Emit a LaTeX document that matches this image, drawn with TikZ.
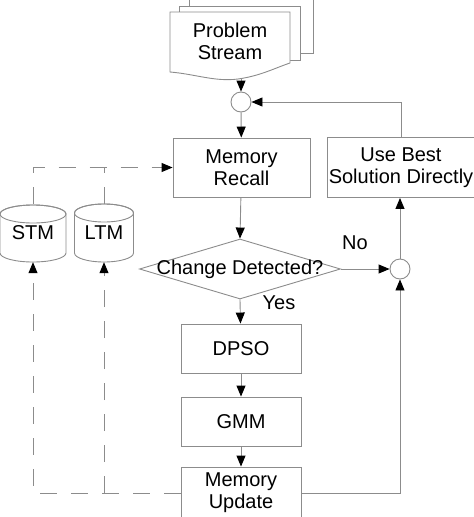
\documentclass[tikz,border=0pt]{standalone}
\usepackage{fontspec}
\setmainfont{Liberation Sans}
\usetikzlibrary{arrows.meta,shapes.geometric}
\definecolor{ln}{HTML}{8C8C8C}
\begin{document}
\begin{tikzpicture}[x=1pt,y=-1pt,
  every node/.style={font=\fontsize{20}{22}\selectfont, text=black},
  con/.style={draw=ln, line width=0.9pt},
  box/.style={con, fill=white, align=center, inner sep=0pt},
  arr/.style={con, -{Triangle[length=11pt,width=9pt,color=black]}},
  dsh/.style={con, dash pattern=on 17pt off 14pt, -{Triangle[length=11pt,width=9pt,color=black]}},
  dshplain/.style={con, dash pattern=on 17pt off 14pt},
  junc/.style={circle, con, fill=white, minimum size=20pt, inner sep=0pt},
  lbl/.style={inner sep=0pt}
  ]
\useasboundingbox (0,0) rectangle (474,517);

% problem stream (multi-document)
\draw[con, fill=white] (189,-5) rectangle (313,53);
\draw[con, fill=white] (179,6) rectangle (300,60);
\draw[con, fill=white] (170,12) -- (290,12) -- (290,63)
  .. controls (275,68) and (260,76) .. (238,79)
  .. controls (215,82) and (195,74) .. (170,72) -- cycle;
\node[align=center, inner sep=0pt] (ps) at (230,41) {Problem\\Stream};
\coordinate (psb) at (241,79);

% junctions
\node[junc] (c1) at (241,102) {};
\node[junc] (c2) at (400,269) {};

% boxes
\node[box, minimum width=137pt, minimum height=59pt] (mr) at (241.5,167.5) {Memory\\Recall};
\node[box, minimum width=148pt, minimum height=60pt] (ub) at (401,167.5) {Use Best\\Solution Directly};
\node[diamond, con, fill=white, minimum width=201pt, minimum height=60pt, inner sep=0pt] (cd) at (240,269) {};
\node[lbl] (cdt) at (cd.center) {Change Detected?};
\node[box, minimum width=120pt, minimum height=49pt] (dp) at (241,348.5) {DPSO};
\node[box, minimum width=120pt, minimum height=49pt] (gm) at (241,421.5) {GMM};
\node[box, minimum width=120pt, minimum height=52pt] (mu) at (241,493) {Memory\\Update};

% memories (cylinders)
\draw[con, fill=white] (0,214) -- (0,253) arc[start angle=180,end angle=360,x radius=33pt,y radius=9pt]
  -- (66,214) arc[start angle=0,end angle=180,x radius=33pt,y radius=9pt] -- cycle;
\draw[con] (33,214) ellipse[x radius=33pt, y radius=9pt];
\node[lbl, minimum width=66pt, minimum height=58pt] (stm) at (33,233) {STM};
\draw[con, fill=white] (74.5,213) -- (74.5,253) arc[start angle=180,end angle=360,x radius=29.5pt,y radius=9pt]
  -- (133.5,213) arc[start angle=0,end angle=180,x radius=29.5pt,y radius=9pt] -- cycle;
\draw[con] (104,213) ellipse[x radius=29.5pt, y radius=9pt];
\node[lbl, minimum width=59pt, minimum height=58pt] (ltm) at (104,233) {LTM};

% connectors
\draw[arr] (psb) -- (c1);
\draw[arr] (c1) -- (mr);
\draw[arr] (ub.north) |- (c1.east);
\draw[arr] (mr) -- (cd.north);
\draw[arr] (cd.east) -- (c2);
\draw[arr] (c2) -- (c2 |- ub.south);
\draw[arr] (cd.south) -- (dp);
\draw[arr] (dp) -- (gm);
\draw[arr] (gm) -- (mu);
\draw[arr] (mu.east) -| (c2.south);

\draw[dsh] (mu.west) -| (stm.south);
\draw[dsh] (ltm.south |- mu.west) -- (ltm.south);
\draw[dsh] (stm.north) |- (mr.west);
\draw[dshplain] (ltm.north) -- (ltm.north |- mr.west);

% labels
\node[lbl] (no) at (355,243) {No};
\node[lbl] (yes) at (279,303) {Yes};
\end{tikzpicture}
\end{document}
